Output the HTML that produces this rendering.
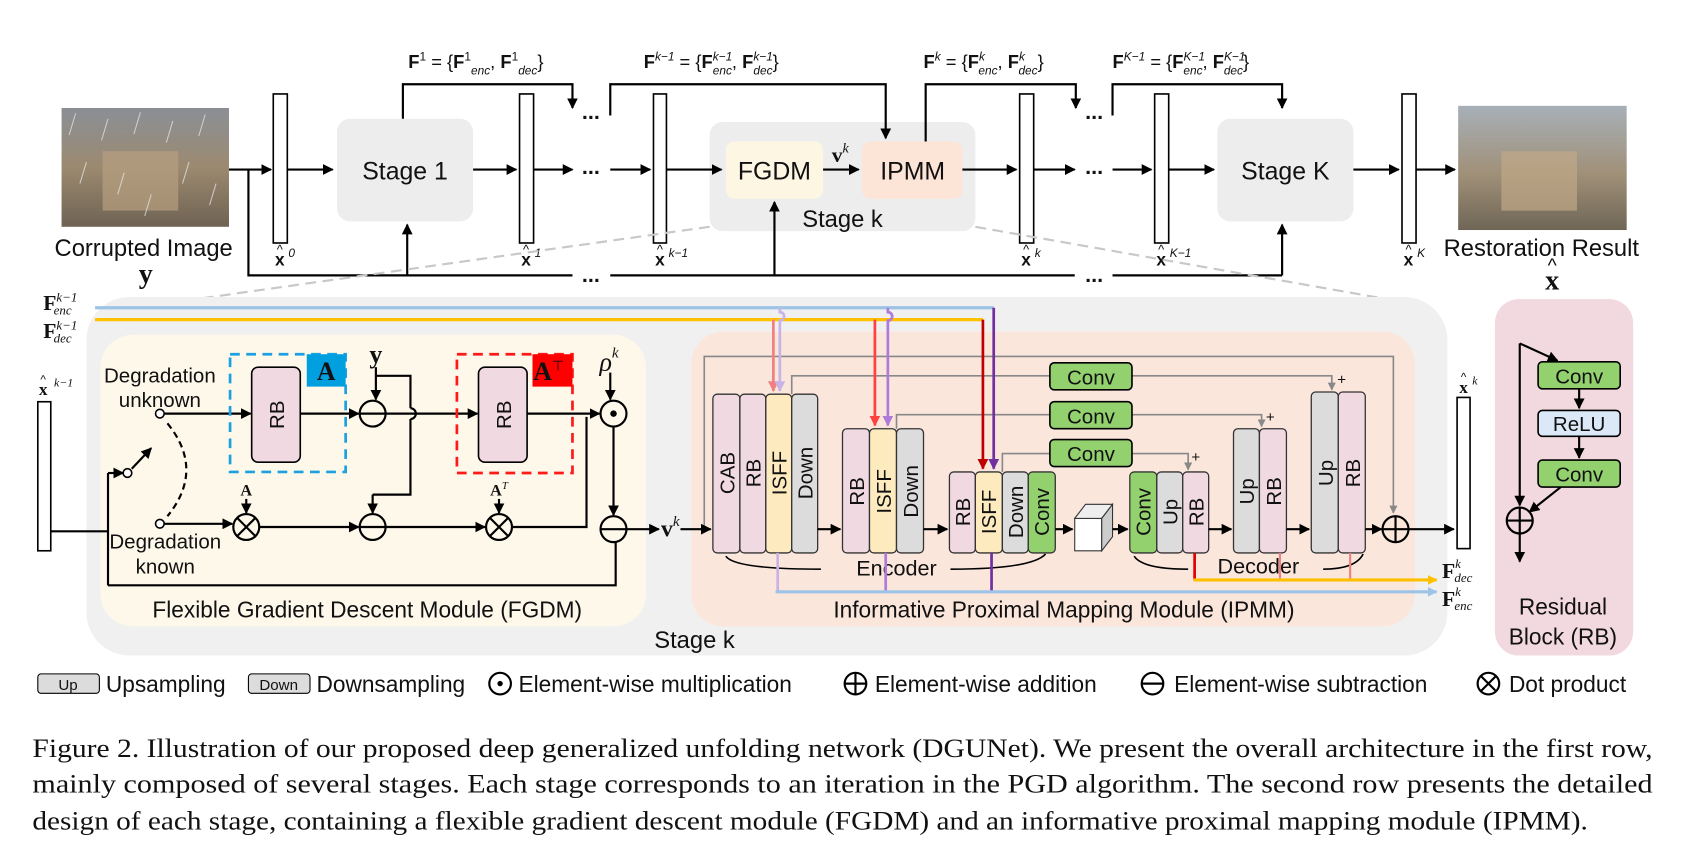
<!DOCTYPE html>
<html><head><meta charset="utf-8"><style>
html,body{margin:0;padding:0;background:#fff}
svg{display:block}
text{font-family:"Liberation Sans",sans-serif;fill:#111}
.s{font-family:"Liberation Serif",serif}
</style></head><body>
<svg width="1685" height="851" viewBox="0 0 1560 788" preserveAspectRatio="none" xmlns="http://www.w3.org/2000/svg">
<defs>
<marker id="a" viewBox="0 0 10 10" refX="9" refY="5" markerWidth="5" markerHeight="5" orient="auto"><path d="M0,0L10,5L0,10z" fill="#000"/></marker>
<marker id="g" viewBox="0 0 10 10" refX="9" refY="5" markerWidth="5" markerHeight="5" orient="auto"><path d="M0,0L10,5L0,10z" fill="#888"/></marker>
<marker id="ap" viewBox="0 0 10 10" refX="9" refY="5" markerWidth="4" markerHeight="4" orient="auto"><path d="M0,0L10,5L0,10z" fill="#f08080"/></marker>
<marker id="ar" viewBox="0 0 10 10" refX="9" refY="5" markerWidth="4" markerHeight="4" orient="auto"><path d="M0,0L10,5L0,10z" fill="#ff4040"/></marker>
<marker id="al" viewBox="0 0 10 10" refX="9" refY="5" markerWidth="4" markerHeight="4" orient="auto"><path d="M0,0L10,5L0,10z" fill="#c9b3e6"/></marker>
<marker id="am" viewBox="0 0 10 10" refX="9" refY="5" markerWidth="4" markerHeight="4" orient="auto"><path d="M0,0L10,5L0,10z" fill="#b07ad8"/></marker>
<marker id="ad" viewBox="0 0 10 10" refX="9" refY="5" markerWidth="4" markerHeight="4" orient="auto"><path d="M0,0L10,5L0,10z" fill="#c00000"/></marker>
<marker id="au" viewBox="0 0 10 10" refX="9" refY="5" markerWidth="4" markerHeight="4" orient="auto"><path d="M0,0L10,5L0,10z" fill="#7030a0"/></marker>
<marker id="ao" viewBox="0 0 10 10" refX="9" refY="5" markerWidth="3" markerHeight="3" orient="auto"><path d="M0,0L10,5L0,10z" fill="#ffc000"/></marker>
<marker id="ab" viewBox="0 0 10 10" refX="9" refY="5" markerWidth="3" markerHeight="3" orient="auto"><path d="M0,0L10,5L0,10z" fill="#9dc3e6"/></marker>
<linearGradient id="img1" x1="0" y1="0" x2="0" y2="1"><stop offset="0" stop-color="#8a8f96"/><stop offset="0.5" stop-color="#9c8a70"/><stop offset="1" stop-color="#6e6252"/></linearGradient>
<linearGradient id="img2" x1="0" y1="0" x2="0" y2="1"><stop offset="0" stop-color="#a7b0b8"/><stop offset="0.55" stop-color="#a09078"/><stop offset="1" stop-color="#6f6656"/></linearGradient>
</defs>

<rect x="57" y="100" width="155" height="110" fill="url(#img1)"/>
<rect x="95" y="140" width="70" height="55" fill="#b8a080" opacity="0.7"/>
<g stroke="#e8e8e8" stroke-width="1" opacity="0.7">
<line x1="70" y1="105" x2="64" y2="125"/><line x1="100" y1="110" x2="94" y2="130"/><line x1="130" y1="104" x2="124" y2="124"/><line x1="160" y1="112" x2="154" y2="132"/><line x1="190" y1="106" x2="184" y2="126"/><line x1="80" y1="150" x2="74" y2="170"/><line x1="115" y1="160" x2="109" y2="180"/><line x1="175" y1="150" x2="169" y2="170"/><line x1="200" y1="170" x2="194" y2="190"/><line x1="140" y1="180" x2="134" y2="200"/>
</g>
<rect x="1350" y="98" width="156" height="115" fill="url(#img2)"/>
<rect x="1390" y="140" width="70" height="55" fill="#c0a888" opacity="0.7"/>
<text x="133" y="237" font-size="22" text-anchor="middle">Corrupted Image</text>
<text x="135" y="262" font-size="26" font-weight="bold" class="s" text-anchor="middle">y</text>
<text x="1427" y="237" font-size="22" text-anchor="middle">Restoration Result</text>
<text x="1437" y="268" font-size="26" font-weight="bold" class="s" text-anchor="middle">x</text>
<text x="1437" y="252" font-size="18" text-anchor="middle">^</text>

<rect x="312" y="110" width="126" height="95" rx="12" fill="#ededed"/>
<text x="375" y="166" font-size="23" text-anchor="middle">Stage 1</text>
<rect x="657" y="113" width="246" height="101" rx="12" fill="#ededed"/>
<rect x="672" y="131" width="90" height="53" rx="8" fill="#fdf6e3"/>
<text x="717" y="166" font-size="23" text-anchor="middle">FGDM</text>
<rect x="798" y="131" width="93" height="53" rx="8" fill="#fce4d6"/>
<text x="845" y="166" font-size="23" text-anchor="middle">IPMM</text>
<text x="780" y="210" font-size="22" text-anchor="middle">Stage k</text>
<text x="770" y="150" font-size="20" font-weight="bold" class="s">v<tspan font-size="13" dy="-9" font-style="italic" font-weight="normal">k</tspan></text>
<rect x="1127" y="110" width="126" height="95" rx="12" fill="#ededed"/>
<text x="1190" y="166" font-size="23" text-anchor="middle">Stage K</text>

<g fill="#fff" stroke="#000" stroke-width="1.5">
<rect x="253" y="87" width="13" height="138"/><rect x="481" y="87" width="13" height="138"/><rect x="605" y="87" width="12" height="138"/><rect x="944" y="87" width="13" height="138"/><rect x="1069" y="87" width="13" height="138"/><rect x="1298" y="87" width="13" height="138"/>
</g>
<g font-size="16" font-weight="bold" class="s" text-anchor="middle">
<text x="259" y="246">x</text><text x="487" y="246">x</text><text x="611" y="246">x</text><text x="950" y="246">x</text><text x="1075" y="246">x</text><text x="1304" y="246">x</text>
</g>
<g font-size="11" class="s" font-style="italic">
<text x="267" y="238">0</text><text x="495" y="238">1</text><text x="619" y="238">k−1</text><text x="958" y="238">k</text><text x="1083" y="238">K−1</text><text x="1312" y="238">K</text>
</g>
<g font-size="12" text-anchor="middle"><text x="259" y="235">^</text><text x="487" y="235">^</text><text x="611" y="235">^</text><text x="950" y="235">^</text><text x="1075" y="235">^</text><text x="1304" y="235">^</text></g>

<g stroke="#000" stroke-width="2" fill="none" marker-end="url(#a)">
<line x1="212" y1="157" x2="251" y2="157"/>
<line x1="266" y1="157" x2="308" y2="157"/>
<line x1="438" y1="157" x2="478" y2="157"/>
<line x1="494" y1="157" x2="530" y2="157"/>
<line x1="565" y1="157" x2="602" y2="157"/>
<line x1="617" y1="157" x2="668" y2="157"/>
<line x1="762" y1="157" x2="795" y2="157"/>
<line x1="891" y1="157" x2="941" y2="157"/>
<line x1="957" y1="157" x2="995" y2="157"/>
<line x1="1030" y1="157" x2="1066" y2="157"/>
<line x1="1082" y1="157" x2="1124" y2="157"/>
<line x1="1253" y1="157" x2="1295" y2="157"/>
<line x1="1311" y1="157" x2="1347" y2="157"/>
<polyline points="373,110 373,78 530,78 530,100"/>
<polyline points="565,107 565,78 820,78 820,128"/>
<polyline points="857,131 857,78 996,78 996,100"/>
<polyline points="1030,107 1030,78 1187,78 1187,100"/>
<line x1="377" y1="255" x2="377" y2="208"/>
<line x1="717" y1="255" x2="717" y2="187"/>
<line x1="1187" y1="255" x2="1187" y2="208"/>
</g>
<g stroke="#000" stroke-width="2" fill="none">
<polyline points="230,157 230,255 530,255"/><line x1="565" y1="255" x2="995" y2="255"/><line x1="1030" y1="255" x2="1187" y2="255"/>
</g>
<g font-size="20" font-weight="bold" text-anchor="middle">
<text x="547" y="161">...</text><text x="1013" y="161">...</text><text x="547" y="110">...</text><text x="1013" y="110">...</text><text x="547" y="261">...</text><text x="1013" y="261">...</text>
</g>
<g class="s" font-size="17">
<text x="378" y="63"><tspan font-weight="bold">F</tspan><tspan font-size="11" dy="-7">1</tspan><tspan dy="7"> = {</tspan><tspan font-weight="bold">F</tspan><tspan font-size="11" dy="-7">1</tspan><tspan font-size="11" dy="13" font-style="italic">enc</tspan><tspan dy="-6">, </tspan><tspan font-weight="bold">F</tspan><tspan font-size="11" dy="-7">1</tspan><tspan font-size="11" dy="13" font-style="italic">dec</tspan><tspan dy="-6">}</tspan></text>
<text x="596" y="63"><tspan font-weight="bold">F</tspan><tspan font-size="11" dy="-7" font-style="italic">k−1</tspan><tspan dy="7"> = {</tspan><tspan font-weight="bold">F</tspan><tspan font-size="11" dy="-7" font-style="italic">k−1</tspan><tspan font-size="11" dx="-18" dy="13" font-style="italic">enc</tspan><tspan dy="-6">, </tspan><tspan font-weight="bold">F</tspan><tspan font-size="11" dy="-7" font-style="italic">k−1</tspan><tspan font-size="11" dx="-18" dy="13" font-style="italic">dec</tspan><tspan dy="-6">}</tspan></text>
<text x="855" y="63"><tspan font-weight="bold">F</tspan><tspan font-size="11" dy="-7" font-style="italic">k</tspan><tspan dy="7"> = {</tspan><tspan font-weight="bold">F</tspan><tspan font-size="11" dy="-7" font-style="italic">k</tspan><tspan font-size="11" dx="-6" dy="13" font-style="italic">enc</tspan><tspan dy="-6">, </tspan><tspan font-weight="bold">F</tspan><tspan font-size="11" dy="-7" font-style="italic">k</tspan><tspan font-size="11" dx="-6" dy="13" font-style="italic">dec</tspan><tspan dy="-6">}</tspan></text>
<text x="1030" y="63"><tspan font-weight="bold">F</tspan><tspan font-size="11" dy="-7" font-style="italic">K−1</tspan><tspan dy="7"> = {</tspan><tspan font-weight="bold">F</tspan><tspan font-size="11" dy="-7" font-style="italic">K−1</tspan><tspan font-size="11" dx="-20" dy="13" font-style="italic">enc</tspan><tspan dy="-6">, </tspan><tspan font-weight="bold">F</tspan><tspan font-size="11" dy="-7" font-style="italic">K−1</tspan><tspan font-size="11" dx="-20" dy="13" font-style="italic">dec</tspan><tspan dy="-6">}</tspan></text>
</g>

<line x1="657" y1="210" x2="160" y2="280" stroke="#c8c8c8" stroke-width="2" stroke-dasharray="10,6"/>
<line x1="903" y1="210" x2="1290" y2="278" stroke="#c8c8c8" stroke-width="2" stroke-dasharray="10,6"/>

<rect x="80" y="275" width="1260" height="332" rx="40" fill="#f0f0f0"/>
<text x="643" y="600" font-size="22" text-anchor="middle">Stage k</text>
<rect x="93" y="310" width="505" height="270" rx="30" fill="#fdf8ea"/>
<rect x="640" y="307" width="670" height="273" rx="30" fill="#fbe6dc"/>
<rect x="1384" y="277" width="128" height="330" rx="22" fill="#f2d9e0"/>

<text x="40" y="287" class="s" font-size="20" font-weight="bold">F<tspan font-size="12" font-weight="normal" font-style="italic" dy="-8">k−1</tspan><tspan font-size="12" font-weight="normal" font-style="italic" dx="-22" dy="12">enc</tspan></text>
<text x="40" y="313" class="s" font-size="20" font-weight="bold">F<tspan font-size="12" font-weight="normal" font-style="italic" dy="-8">k−1</tspan><tspan font-size="12" font-weight="normal" font-style="italic" dx="-22" dy="12">dec</tspan></text>
<line x1="88" y1="285" x2="920" y2="285" stroke="#9dc3e6" stroke-width="3"/>
<line x1="88" y1="296" x2="910" y2="296" stroke="#ffc000" stroke-width="3"/>

<rect x="35" y="372" width="12" height="138" fill="#fff" stroke="#000" stroke-width="1.5"/>
<text x="40" y="366" class="s" font-size="16" font-weight="bold" text-anchor="middle">x</text>
<text x="40" y="355" font-size="11" text-anchor="middle">^</text>
<text x="50" y="358" class="s" font-size="11" font-style="italic">k−1</text>
<g stroke="#000" stroke-width="2" fill="none">
<polyline points="47,492 100,492"/>
<polyline points="100,542 100,438" />
<polyline points="100,542 570,542 570,502"/>
<polyline points="348,348 380,348 380,378"/><path d="M380,378 a5,5 0 0 1 0,10"/><polyline points="380,388 380,458 345,458"/>
<polyline points="474,488 543,488 543,386"/>
</g>
<g stroke="#000" stroke-width="2" fill="none" marker-end="url(#a)">
<line x1="100" y1="438" x2="114" y2="438"/>
<line x1="122" y1="434" x2="140" y2="415"/>
<line x1="152" y1="383" x2="232" y2="383"/>
<line x1="278" y1="383" x2="332" y2="383"/>
<line x1="348" y1="340" x2="348" y2="370"/>
<line x1="345" y1="458" x2="345" y2="475"/>
<line x1="357" y1="383" x2="442" y2="383"/>
<line x1="488" y1="383" x2="555" y2="383"/>
<line x1="565" y1="345" x2="565" y2="370"/>
<line x1="152" y1="485" x2="215" y2="485"/>
<line x1="228" y1="462" x2="228" y2="475"/>
<line x1="240" y1="488" x2="332" y2="488"/>
<line x1="357" y1="488" x2="449" y2="488"/>
<line x1="462" y1="462" x2="462" y2="475"/>
<line x1="568" y1="395" x2="568" y2="477"/>
<line x1="580" y1="490" x2="610" y2="490"/>
</g>
<g fill="#fff" stroke="#000" stroke-width="1.5"><circle cx="118" cy="438" r="4"/><circle cx="148" cy="383" r="4"/><circle cx="148" cy="485" r="4"/></g>
<path d="M155,392 Q190,435 155,478" stroke="#000" stroke-width="2" stroke-dasharray="6,4" fill="none"/>
<text x="148" y="354" font-size="19" text-anchor="middle">Degradation</text>
<text x="148" y="377" font-size="19" text-anchor="middle">unknown</text>
<text x="153" y="508" font-size="19" text-anchor="middle">Degradation</text>
<text x="153" y="531" font-size="19" text-anchor="middle">known</text>
<rect x="213" y="328" width="107" height="109" fill="none" stroke="#1ba1e2" stroke-width="2.5" stroke-dasharray="9,6"/>
<rect x="284" y="328" width="36" height="30" fill="#00a0e0"/>
<text x="302" y="352" class="s" font-size="24" font-weight="bold" text-anchor="middle">A</text>
<rect x="233" y="340" width="45" height="88" rx="6" fill="#f0d9e0" stroke="#000" stroke-width="1.5"/>
<text transform="translate(263,384) rotate(-90)" font-size="19" text-anchor="middle">RB</text>
<rect x="423" y="328" width="107" height="110" fill="none" stroke="#ff1a1a" stroke-width="2.5" stroke-dasharray="9,6"/>
<rect x="493" y="328" width="37" height="30" fill="#ff0000"/>
<text x="508" y="352" class="s" font-size="24" font-weight="bold" text-anchor="middle">A<tspan font-size="13" font-weight="normal" dy="-9">⊤</tspan></text>
<rect x="443" y="340" width="45" height="88" rx="6" fill="#f0d9e0" stroke="#000" stroke-width="1.5"/>
<text transform="translate(473,384) rotate(-90)" font-size="19" text-anchor="middle">RB</text>
<text x="348" y="336" class="s" font-size="24" font-weight="bold" text-anchor="middle">y</text>
<text x="555" y="343" class="s" font-size="24" font-style="italic">ρ<tspan font-size="14" dy="-12">k</tspan></text>
<text x="228" y="459" class="s" font-size="15" font-weight="bold" text-anchor="middle">A</text>
<text x="462" y="459" class="s" font-size="15" font-weight="bold" text-anchor="middle">A<tspan font-size="10" font-style="italic" font-weight="normal" dy="-6">T</tspan></text>
<g fill="#fdf8ea" stroke="#000" stroke-width="2">
<circle cx="345" cy="383" r="12"/><circle cx="568" cy="383" r="12"/><circle cx="228" cy="488" r="12"/><circle cx="345" cy="488" r="12"/><circle cx="462" cy="488" r="12"/><circle cx="568" cy="490" r="12"/>
</g>
<g stroke="#000" stroke-width="2">
<line x1="333" y1="383" x2="357" y2="383"/><line x1="333" y1="488" x2="357" y2="488"/><line x1="556" y1="490" x2="580" y2="490"/>
<line x1="220" y1="480" x2="236" y2="496"/><line x1="236" y1="480" x2="220" y2="496"/>
<line x1="454" y1="480" x2="470" y2="496"/><line x1="470" y1="480" x2="454" y2="496"/>
</g>
<circle cx="568" cy="383" r="3" fill="#000"/>
<text x="612" y="497" class="s" font-size="22" font-weight="bold">v<tspan font-size="14" font-style="italic" font-weight="normal" dy="-10">k</tspan></text>
<text x="340" y="572" font-size="21" text-anchor="middle">Flexible Gradient Descent Module (FGDM)</text>

<g stroke="#888" stroke-width="1.5" fill="none">
<polyline points="652,490 652,330 1290,330 1290,475" marker-end="url(#g)"/>
<polyline points="733,365 733,348 1233,348 1233,361" marker-end="url(#g)"/>
<polyline points="830,397 830,384 1168,384 1168,395" marker-end="url(#g)"/>
<polyline points="928,437 928,420 1100,420 1100,435" marker-end="url(#g)"/>
</g>
<g font-size="14"><text x="1238" y="356" fill="#999">+</text><text x="1172" y="391" fill="#999">+</text><text x="1103" y="428" fill="#999">+</text></g>
<g stroke="#000" stroke-width="1.5">
<rect x="972" y="336" width="76" height="25" rx="4" fill="#93d16f"/>
<rect x="972" y="372" width="76" height="25" rx="4" fill="#93d16f"/>
<rect x="972" y="407" width="76" height="25" rx="4" fill="#93d16f"/>
</g>
<g font-size="19" text-anchor="middle"><text x="1010" y="356">Conv</text><text x="1010" y="392">Conv</text><text x="1010" y="427">Conv</text></g>

<g stroke="#333" stroke-width="1.2">
<rect x="660" y="365" width="25" height="147" rx="4" fill="#f0d9e0"/>
<rect x="685" y="365" width="24" height="147" rx="4" fill="#f0d9e0"/>
<rect x="709" y="365" width="24" height="147" rx="4" fill="#fdebbf"/>
<rect x="733" y="365" width="24" height="147" rx="4" fill="#dcdcdc"/>
<rect x="780" y="397" width="25" height="115" rx="4" fill="#f0d9e0"/>
<rect x="805" y="397" width="25" height="115" rx="4" fill="#fdebbf"/>
<rect x="830" y="397" width="25" height="115" rx="4" fill="#dcdcdc"/>
<rect x="879" y="437" width="24" height="75" rx="4" fill="#f0d9e0"/>
<rect x="903" y="437" width="25" height="75" rx="4" fill="#fdebbf"/>
<rect x="928" y="437" width="24" height="75" rx="4" fill="#dcdcdc"/>
<rect x="952" y="437" width="25" height="75" rx="4" fill="#93d16f"/>
<rect x="1046" y="437" width="25" height="75" rx="4" fill="#93d16f"/>
<rect x="1071" y="437" width="24" height="75" rx="4" fill="#dcdcdc"/>
<rect x="1095" y="437" width="24" height="75" rx="4" fill="#f0d9e0"/>
<rect x="1142" y="397" width="24" height="115" rx="4" fill="#dcdcdc"/>
<rect x="1166" y="397" width="25" height="115" rx="4" fill="#f0d9e0"/>
<rect x="1214" y="363" width="25" height="149" rx="4" fill="#dcdcdc"/>
<rect x="1239" y="363" width="25" height="149" rx="4" fill="#f0d9e0"/>
</g>
<g font-size="19" text-anchor="middle">
<text transform="translate(680,438) rotate(-90)">CAB</text>
<text transform="translate(704,438) rotate(-90)">RB</text>
<text transform="translate(728,438) rotate(-90)">ISFF</text>
<text transform="translate(752,438) rotate(-90)">Down</text>
<text transform="translate(800,455) rotate(-90)">RB</text>
<text transform="translate(825,455) rotate(-90)">ISFF</text>
<text transform="translate(850,455) rotate(-90)">Down</text>
<text transform="translate(898,474) rotate(-90)">RB</text>
<text transform="translate(922,474) rotate(-90)">ISFF</text>
<text transform="translate(947,474) rotate(-90)">Down</text>
<text transform="translate(971,474) rotate(-90)">Conv</text>
<text transform="translate(1065,474) rotate(-90)">Conv</text>
<text transform="translate(1090,474) rotate(-90)">Up</text>
<text transform="translate(1114,474) rotate(-90)">RB</text>
<text transform="translate(1161,455) rotate(-90)">Up</text>
<text transform="translate(1186,455) rotate(-90)">RB</text>
<text transform="translate(1234,438) rotate(-90)">Up</text>
<text transform="translate(1259,438) rotate(-90)">RB</text>
</g>
<polygon points="995,480 1020,480 1020,510 995,510" fill="#fff" stroke="#333"/>
<polygon points="995,480 1005,467 1030,467 1020,480" fill="#eee" stroke="#333"/>
<polygon points="1020,480 1030,467 1030,497 1020,510" fill="#ccc" stroke="#333"/>
<g stroke="#000" stroke-width="2" fill="none" marker-end="url(#a)">
<line x1="630" y1="490" x2="658" y2="490"/>
<line x1="757" y1="490" x2="778" y2="490"/>
<line x1="855" y1="490" x2="877" y2="490"/>
<line x1="977" y1="490" x2="993" y2="490"/>
<line x1="1030" y1="490" x2="1044" y2="490"/>
<line x1="1119" y1="490" x2="1140" y2="490"/>
<line x1="1191" y1="490" x2="1212" y2="490"/>
<line x1="1264" y1="490" x2="1279" y2="490"/>
<line x1="1304" y1="490" x2="1346" y2="490"/>
</g>
<circle cx="1292" cy="490" r="12" fill="#fbe6dc" stroke="#000" stroke-width="2"/>
<g stroke="#000" stroke-width="2"><line x1="1280" y1="490" x2="1304" y2="490"/><line x1="1292" y1="478" x2="1292" y2="502"/></g>
<rect x="1349" y="368" width="12" height="140" fill="#fff" stroke="#000" stroke-width="1.5"/>
<text x="1355" y="364" class="s" font-size="16" font-weight="bold" text-anchor="middle">x</text>
<text x="1355" y="353" font-size="11" text-anchor="middle">^</text>
<text x="1363" y="356" class="s" font-size="11" font-style="italic">k</text>

<path d="M672,515 Q680,527 760,527 M880,527 Q955,527 968,513" stroke="#000" stroke-width="1.5" fill="none"/>
<text x="830" y="533" font-size="20" text-anchor="middle">Encoder</text>
<path d="M1050,515 Q1058,527 1100,527 M1225,527 Q1255,527 1262,513" stroke="#000" stroke-width="1.5" fill="none"/>
<text x="1165" y="531" font-size="20" text-anchor="middle">Decoder</text>

<line x1="716" y1="296" x2="716" y2="362" stroke="#f08080" stroke-width="2.5" marker-end="url(#ap)"/>
<path d="M722,285 v4 a4,4 0 0 1 0,8 v65" stroke="#c9b3e6" stroke-width="2.5" fill="none" marker-end="url(#al)"/>
<line x1="810" y1="296" x2="810" y2="394" stroke="#ff4040" stroke-width="2.5" marker-end="url(#ar)"/>
<path d="M822,285 v4 a4,4 0 0 1 0,8 v97" stroke="#b07ad8" stroke-width="2.5" fill="none" marker-end="url(#am)"/>
<line x1="910" y1="296" x2="910" y2="434" stroke="#c00000" stroke-width="2.5" marker-end="url(#ad)"/>
<line x1="920" y1="285" x2="920" y2="434" stroke="#7030a0" stroke-width="2.5" marker-end="url(#au)"/>
<line x1="720" y1="512" x2="720" y2="548" stroke="#c9b3e6" stroke-width="2.5"/>
<line x1="820" y1="512" x2="820" y2="548" stroke="#b07ad8" stroke-width="2.5"/>
<line x1="918" y1="512" x2="918" y2="548" stroke="#7030a0" stroke-width="2.5"/>
<line x1="1106" y1="512" x2="1106" y2="537" stroke="#e00000" stroke-width="2.5"/>
<line x1="1185" y1="512" x2="1185" y2="537" stroke="#f08080" stroke-width="2"/>
<line x1="1250" y1="512" x2="1250" y2="537" stroke="#f08080" stroke-width="2"/>
<line x1="1105" y1="537" x2="1330" y2="537" stroke="#ffc000" stroke-width="3" marker-end="url(#ao)"/>
<line x1="718" y1="548" x2="1330" y2="548" stroke="#9dc3e6" stroke-width="3" marker-end="url(#ab)"/>
<text x="1335" y="535" class="s" font-size="20" font-weight="bold">F<tspan font-size="12" font-weight="normal" font-style="italic" dy="-9">k</tspan><tspan font-size="12" font-weight="normal" font-style="italic" dx="-6" dy="13">dec</tspan></text>
<text x="1335" y="561" class="s" font-size="20" font-weight="bold">F<tspan font-size="12" font-weight="normal" font-style="italic" dy="-9">k</tspan><tspan font-size="12" font-weight="normal" font-style="italic" dx="-6" dy="13">enc</tspan></text>
<text x="985" y="572" font-size="21" text-anchor="middle">Informative Proximal Mapping Module (IPMM)</text>

<g stroke="#000" stroke-width="2" fill="none" marker-end="url(#a)">
<line x1="1407" y1="318" x2="1407" y2="468"/>
<line x1="1407" y1="318" x2="1442" y2="334"/>
<line x1="1462" y1="360" x2="1462" y2="378"/>
<line x1="1462" y1="404" x2="1462" y2="424"/>
<line x1="1445" y1="451" x2="1416" y2="474"/>
<line x1="1407" y1="494" x2="1407" y2="520"/>
</g>
<rect x="1424" y="335" width="76" height="25" rx="4" fill="#93d16f" stroke="#000" stroke-width="1.5"/>
<rect x="1424" y="380" width="76" height="24" rx="4" fill="#dbe8f7" stroke="#000" stroke-width="1.5"/>
<rect x="1424" y="426" width="76" height="25" rx="4" fill="#93d16f" stroke="#000" stroke-width="1.5"/>
<g font-size="19" text-anchor="middle"><text x="1462" y="355">Conv</text><text x="1462" y="399">ReLU</text><text x="1462" y="446">Conv</text></g>
<circle cx="1407" cy="482" r="12" fill="#f2d9e0" stroke="#000" stroke-width="2"/>
<g stroke="#000" stroke-width="2"><line x1="1395" y1="482" x2="1419" y2="482"/><line x1="1407" y1="470" x2="1407" y2="494"/></g>
<text x="1447" y="569" font-size="21" text-anchor="middle">Residual</text>
<text x="1447" y="597" font-size="21" text-anchor="middle">Block (RB)</text>

<rect x="35" y="624" width="57" height="18" rx="3" fill="#dcdcdc" stroke="#000"/>
<text x="63" y="639" font-size="14" text-anchor="middle">Up</text>
<text x="98" y="641" font-size="21">Upsampling</text>
<rect x="230" y="624" width="57" height="18" rx="3" fill="#dcdcdc" stroke="#000"/>
<text x="258" y="639" font-size="14" text-anchor="middle">Down</text>
<text x="293" y="641" font-size="21">Downsampling</text>
<circle cx="463" cy="633" r="10" fill="none" stroke="#000" stroke-width="2"/><circle cx="463" cy="633" r="2.5"/>
<text x="480" y="641" font-size="21">Element-wise multiplication</text>
<circle cx="792" cy="633" r="10" fill="none" stroke="#000" stroke-width="2"/>
<g stroke="#000" stroke-width="2"><line x1="782" y1="633" x2="802" y2="633"/><line x1="792" y1="623" x2="792" y2="643"/></g>
<text x="810" y="641" font-size="21">Element-wise addition</text>
<circle cx="1067" cy="633" r="10" fill="none" stroke="#000" stroke-width="2"/>
<line x1="1057" y1="633" x2="1077" y2="633" stroke="#000" stroke-width="2"/>
<text x="1087" y="641" font-size="21">Element-wise subtraction</text>
<circle cx="1378" cy="633" r="10" fill="none" stroke="#000" stroke-width="2"/>
<g stroke="#000" stroke-width="2"><line x1="1371" y1="626" x2="1385" y2="640"/><line x1="1385" y1="626" x2="1371" y2="640"/></g>
<text x="1397" y="641" font-size="21">Dot product</text>

<g class="s" font-size="24">
<text x="30" y="701" textLength="1500" lengthAdjust="spacingAndGlyphs" class="s">Figure 2. Illustration of our proposed deep generalized unfolding network (DGUNet). We present the overall architecture in the first row,</text>
<text x="30" y="734" textLength="1500" lengthAdjust="spacingAndGlyphs" class="s">mainly composed of several stages. Each stage corresponds to an iteration in the PGD algorithm. The second row presents the detailed</text>
<text x="30" y="768" textLength="1440" lengthAdjust="spacingAndGlyphs" class="s">design of each stage, containing a flexible gradient descent module (FGDM) and an informative proximal mapping module (IPMM).</text>
</g>
</svg>
</body></html>
